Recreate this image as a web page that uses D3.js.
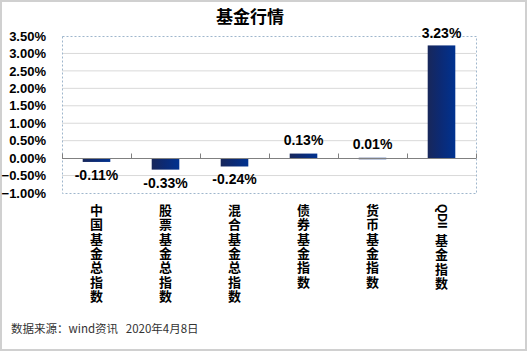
<!DOCTYPE html>
<html>
<head>
<meta charset="utf-8">
<script src="https://cdn.jsdelivr.net/npm/d3@7"></script>
<style>
  body { margin: 0; background: #fff; }
  svg { display: block; }
</style>
</head>
<body>
<svg id="chart"></svg>
<script>
// data
const categories = ["中国基金总指数", "股票基金总指数", "混合基金总指数", "债券基金指数", "货币基金指数", "QDII基金指数"];
const values = [-0.0011, -0.0033, -0.0024, 0.0013, 0.0001, 0.0323];
const yTicks = [-0.01, -0.005, 0, 0.005, 0.01, 0.015, 0.02, 0.025, 0.03, 0.035];
const titleText = "基金行情";
const sourceText = "数据来源：wind资讯   2020年4月8日";

// layout
const width = 527, height = 351;
const plot = { left: 62, right: 476, top: 36, bottom: 193 };
const cjkFont = "'Noto Sans CJK SC', sans-serif";
const numFont = "'Liberation Sans', Arial, sans-serif";

const svg = d3.select("#chart")
    .attr("width", width)
    .attr("height", height);

// outer frame
svg.append("rect")
    .attr("x", 1).attr("y", 1)
    .attr("width", width - 2).attr("height", height - 2)
    .attr("fill", "#fff")
    .attr("stroke", "#d0d0d0")
    .attr("stroke-width", 2);

// gradient for bars
const grad = svg.append("defs").append("linearGradient")
    .attr("id", "barGrad")
    .attr("x1", "0%").attr("x2", "100%").attr("y1", "0%").attr("y2", "0%");
grad.append("stop").attr("offset", "0%").attr("stop-color", "#18275a");
grad.append("stop").attr("offset", "45%").attr("stop-color", "#0c2a74");
grad.append("stop").attr("offset", "100%").attr("stop-color", "#003290");

const x = d3.scaleBand()
    .domain(categories)
    .range([plot.left, plot.right])
    .paddingInner(0.6)
    .paddingOuter(0.3);

const xOuter = d3.scaleBand()
    .domain(categories)
    .range([plot.left, plot.right]);

const y = d3.scaleLinear()
    .domain([-0.01, 0.035])
    .range([plot.bottom, plot.top]);

// gridlines
svg.append("g")
    .selectAll("line")
    .data(yTicks.filter(d => d !== 0 && d !== 0.035 && d !== -0.01))
    .enter()
    .append("line")
    .attr("x1", plot.left).attr("x2", plot.right)
    .attr("y1", d => y(d)).attr("y2", d => y(d))
    .attr("stroke", "#d9d9d9")
    .attr("stroke-width", 1);

// dashed plot area border
svg.append("rect")
    .attr("x", plot.left + 0.5).attr("y", plot.top + 0.5)
    .attr("width", plot.right - plot.left).attr("height", plot.bottom - plot.top)
    .attr("fill", "none")
    .attr("stroke", "#9fb6cc")
    .attr("stroke-dasharray", "2,2")
    .attr("stroke-width", 1);

// y axis labels
const yAxis = d3.axisLeft(y)
    .tickValues(yTicks)
    .tickFormat(d3.format(".2%"))
    .tickSize(0)
    .tickPadding(16);
const yG = svg.append("g")
    .attr("transform", `translate(${plot.left},0)`)
    .call(yAxis);
yG.select(".domain").remove();
yG.selectAll("text")
    .attr("font-family", numFont)
    .attr("font-size", 13)
    .attr("font-weight", "bold")
    .attr("fill", "#000");

// bars
svg.append("g")
    .selectAll("rect")
    .data(values)
    .enter()
    .append("rect")
    .attr("x", (d, i) => x(categories[i]))
    .attr("width", x.bandwidth())
    .attr("y", d => y(Math.max(0, d)))
    .attr("height", d => Math.max(1.5, Math.abs(y(d) - y(0))))
    .attr("fill", "url(#barGrad)");

// zero axis line with ticks
const zeroY = Math.round(y(0)) + 0.5;
svg.append("line")
    .attr("x1", plot.left).attr("x2", plot.right)
    .attr("y1", zeroY).attr("y2", zeroY)
    .attr("stroke", "#808080")
    .attr("stroke-width", 1);
const tickXs = categories.map(c => xOuter(c)).concat([plot.right]);
svg.append("g")
    .selectAll("line")
    .data(tickXs)
    .enter()
    .append("line")
    .attr("x1", d => Math.round(d) + 0.5).attr("x2", d => Math.round(d) + 0.5)
    .attr("y1", zeroY).attr("y2", zeroY - 5)
    .attr("stroke", "#808080");

// value labels
svg.append("g")
    .selectAll("text")
    .data(values)
    .enter()
    .append("text")
    .attr("x", (d, i) => x(categories[i]) + x.bandwidth() / 2)
    .attr("y", d => d >= 0 ? Math.max(y(d) - 9, plot.top + 2) : y(d) + 18)
    .attr("text-anchor", "middle")
    .attr("font-family", numFont)
    .attr("font-size", 14)
    .attr("font-weight", "bold")
    .attr("fill", "#000")
    .text(d => d3.format(".2%")(d).replace("−", "-"));

// category labels, one character per line
const lineStep = 14.3;
const firstBaseline = 215;
categories.forEach((c, i) => {
    const cx = xOuter(c) + xOuter.bandwidth() / 2;
    const g = svg.append("g");
    let chars = c.split("");
    let offset = 0;
    if (c.startsWith("QDII")) {
        g.append("text")
            .attr("transform", `translate(${cx - 4},${firstBaseline - 11}) rotate(90)`)
            .attr("font-family", numFont)
            .attr("font-size", 12)
            .attr("font-weight", "bold")
            .attr("fill", "#000")
            .text("QDII");
        chars = chars.slice(4);
        offset = 2;
    }
    chars.forEach((ch, j) => {
        g.append("text")
            .attr("x", cx)
            .attr("y", firstBaseline + (j + offset) * lineStep + (offset ? 1.5 : 0))
            .attr("text-anchor", "middle")
            .attr("font-family", cjkFont)
            .attr("font-size", 13)
            .attr("font-weight", "bold")
            .attr("fill", "#000")
            .text(ch);
    });
});

// title
svg.append("text")
    .attr("x", 250).attr("y", 23)
    .attr("text-anchor", "middle")
    .attr("font-family", cjkFont)
    .attr("font-size", 17)
    .attr("font-weight", "bold")
    .attr("fill", "#000")
    .text(titleText);

// source note
svg.append("text")
    .attr("x", 11).attr("y", 333)
    .attr("font-family", cjkFont)
    .attr("font-size", 11.5)
    .attr("fill", "#333")
    .style("white-space", "pre")
    .text(sourceText);
</script>
</body>
</html>
